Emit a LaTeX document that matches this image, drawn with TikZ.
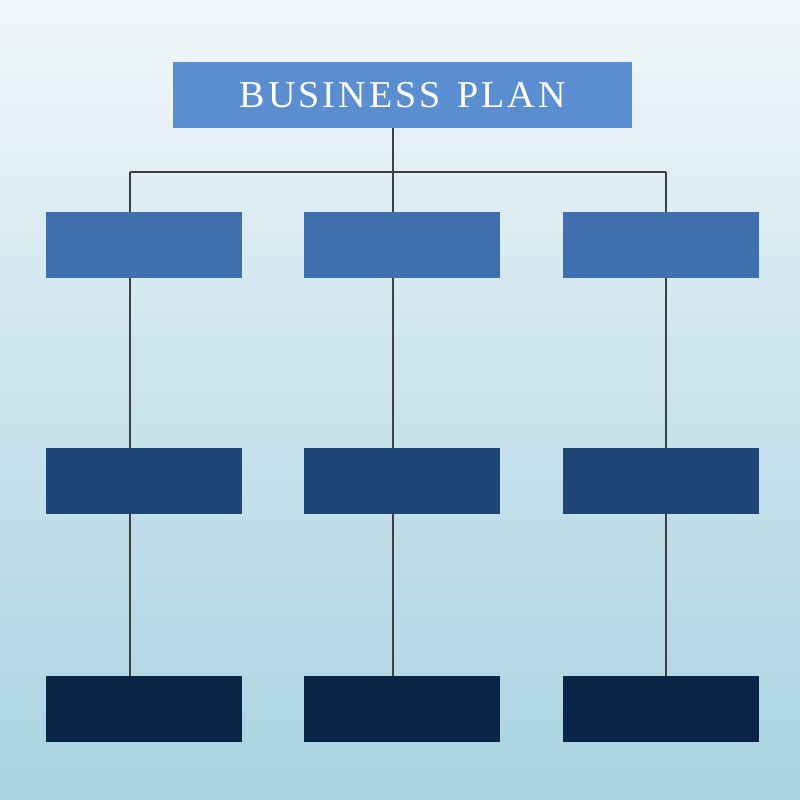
\documentclass[tikz,border=0pt]{standalone}
\usepackage{fontspec}
\setmainfont{Liberation Serif}
\newfontfamily\titlefont[LetterSpace=8]{Liberation Serif}
\definecolor{bgtop}{HTML}{F2F7FA}
\definecolor{bgbot}{HTML}{A9D3E1}
\definecolor{ctop}{HTML}{5A8ED0}
\definecolor{cone}{HTML}{3F70AE}
\definecolor{ctwo}{HTML}{1E4679}
\definecolor{cthree}{HTML}{0A2448}
\definecolor{lin}{HTML}{404040}
\begin{document}
\begin{tikzpicture}[x=1pt,y=-1pt,
  box/.style={draw=none,minimum width=196pt,minimum height=66pt,inner sep=0pt,anchor=north west},
  conn/.style={draw=lin,line width=1.6pt}]
\useasboundingbox (0,0) rectangle (800,800);
\shade[top color=bgtop,bottom color=bgbot,middle color=bgtop!45!bgbot] (0,0) rectangle (800,800);
% top box
\node[box,fill=ctop,minimum width=459pt,minimum height=66pt,text=white] (top) at (173,62)
  {\fontsize{38}{38}\selectfont\titlefont BUSINESS\hspace{4pt} PLAN};
% junction coordinates
\coordinate (ts) at (393,128);
\coordinate (j1) at (130,172);
\coordinate (j2) at (393,172);
\coordinate (j3) at (666,172);
\coordinate (e1) at (130,676);
\coordinate (e2) at (393,676);
\coordinate (e3) at (666,676);
% connectors (behind the boxes)
\draw[conn] (ts) -- (j2);
\draw[conn] (j1) -- (j3);
\draw[conn] (j1) -- (e1);
\draw[conn] (j2) -- (e2);
\draw[conn] (j3) -- (e3);
% row 1
\node[box,fill=cone] (a1) at (46,212) {};
\node[box,fill=cone] (a2) at (304,212) {};
\node[box,fill=cone] (a3) at (563,212) {};
% row 2
\node[box,fill=ctwo] (b1) at (46,448) {};
\node[box,fill=ctwo] (b2) at (304,448) {};
\node[box,fill=ctwo] (b3) at (563,448) {};
% row 3
\node[box,fill=cthree] (c1) at (46,676) {};
\node[box,fill=cthree] (c2) at (304,676) {};
\node[box,fill=cthree] (c3) at (563,676) {};
\end{tikzpicture}
\end{document}
